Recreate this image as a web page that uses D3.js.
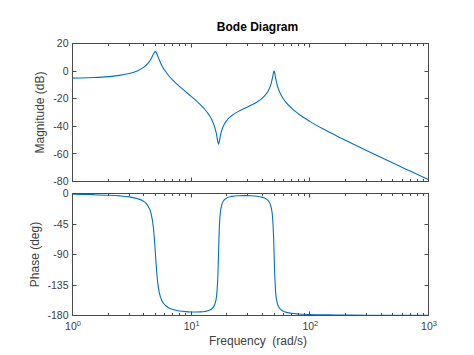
<!DOCTYPE html>
<html><head><meta charset="utf-8">
<script src="https://cdn.jsdelivr.net/npm/d3@7"></script>
<style>body{margin:0;background:#fff}svg{display:block}</style>
</head><body>
<svg id="c" width="474" height="355"></svg>
<script>
// ---- data ----
const freq = [1,1.5,2,2.5,3,3.5,4,4.3,4.6,4.8,4.9,5,5.1,5.2,5.4,5.7,6,6.5,7,8,9,10,11,12,13,14,15,15.8,16.4,16.8,17,17.2,17.6,18.2,19,20,22,25,28,32,36,40,43,45,47,48.5,49.5,50,50.5,51.5,53,55,58,62,70,80,100,130,170,220,300,400,550,700,1000];
const magDb = [-5.07,-4.65,-4.00,-3.09,-1.80,0.04,2.83,5.35,9.00,12.20,13.60,14.08,13.22,11.53,7.88,3.58,0.40,-3.55,-6.58,-11.26,-15.00,-18.30,-21.38,-24.44,-27.62,-31.20,-35.64,-40.58,-46.24,-51.46,-52.90,-51.68,-47.05,-42.29,-38.55,-35.66,-32.20,-29.19,-27.10,-24.75,-22.33,-19.41,-16.41,-13.63,-9.56,-4.80,-0.87,-0.02,-0.98,-5.02,-9.89,-14.10,-18.23,-21.93,-26.80,-30.90,-36.44,-42.01,-47.21,-51.98,-57.57,-62.66,-68.25,-72.46,-78.68];
const phaseDeg = [-1.09,-1.72,-2.50,-3.52,-4.98,-7.34,-11.92,-17.53,-29.97,-49.73,-67.12,-89.51,-111.51,-128.17,-147.00,-158.97,-164.42,-168.84,-171.09,-173.29,-174.28,-174.73,-174.83,-174.61,-173.99,-172.66,-169.77,-163.82,-150.26,-120.06,-89.11,-58.46,-28.82,-15.43,-9.50,-6.52,-4.28,-3.27,-3.08,-3.35,-4.14,-5.74,-8.22,-11.51,-18.91,-34.64,-64.52,-90.30,-115.86,-145.16,-160.64,-167.97,-172.28,-174.73,-176.71,-177.71,-178.53,-179.00,-179.29,-179.48,-179.63,-179.72,-179.80,-179.85,-179.89];
const magTicks = [20,0,-20,-40,-60,-80];
const phaseTicks = [0,-45,-90,-135,-180];
const freqTicks = [1,10,100,1000];
const freqTickExp = ["0","1","2","3"];
const freqDomain = [1,1000];
const magDomain = [-80,20];
const phaseDomain = [-180,0];
const titleText = "Bode Diagram";
const magLabel = "Magnitude (dB)";
const phaseLabel = "Phase (deg)";
const freqLabel = "Frequency  (rad/s)";

// ---- drawing ----
const svg = d3.select("#c");
const axisCol = "#4a4a4a", textCol = "#404040", lineCol = "#0072BD";
const font = "'Liberation Sans', Arial, Helvetica, sans-serif";
const L = 72.5, R = 428.5;
const x = d3.scaleLog().domain(freqDomain).range([L, R]);
const yMag = d3.scaleLinear().domain(magDomain).range([181.5, 43.5]);
const yPh = d3.scaleLinear().domain(phaseDomain).range([315.5, 193.5]);

const minor = [];
[1,10,100].forEach(d => { for (let k = 2; k <= 9; k++) minor.push(d*k); });

function panel(y, ticks, data, id, showX) {
  const g = svg.append("g");
  const [y0, y1] = y.range(); // bottom, top
  g.append("clipPath").attr("id", id).append("rect")
    .attr("x", L).attr("y", y1).attr("width", R - L).attr("height", y0 - y1);
  // line
  const line = d3.line().x(d => x(d[0])).y(d => y(d[1])).curve(d3.curveMonotoneX);
  g.append("path").datum(freq.map((f, i) => [f, data[i]]))
    .attr("d", line).attr("fill", "none").attr("stroke", lineCol)
    .attr("stroke-width", 1.1).attr("clip-path", `url(#${id})`);
  // box
  g.append("rect").attr("x", L).attr("y", y1).attr("width", R - L).attr("height", y0 - y1)
    .attr("fill", "none").attr("stroke", axisCol).attr("stroke-width", 1);
  // x ticks (top & bottom, inward)
  const tg = g.append("g").attr("stroke", axisCol).attr("stroke-width", 1);
  freqTicks.forEach(f => {
    const xx = Math.round(x(f) - 0.5) + 0.5;
    tg.append("line").attr("x1", xx).attr("x2", xx).attr("y1", y0).attr("y2", y0 - 4);
    tg.append("line").attr("x1", xx).attr("x2", xx).attr("y1", y1).attr("y2", y1 + 4);
  });
  minor.forEach(f => {
    const xx = Math.round(x(f) - 0.5) + 0.5;
    tg.append("line").attr("x1", xx).attr("x2", xx).attr("y1", y0).attr("y2", y0 - 2.5);
    tg.append("line").attr("x1", xx).attr("x2", xx).attr("y1", y1).attr("y2", y1 + 2.5);
  });
  // y ticks (left & right)
  ticks.forEach(t => {
    const yy = Math.round(y(t) - 0.5) + 0.5;
    tg.append("line").attr("x1", L).attr("x2", L + 4).attr("y1", yy).attr("y2", yy);
    tg.append("line").attr("x1", R).attr("x2", R - 4).attr("y1", yy).attr("y2", yy);
    g.append("text").attr("x", 68.5).attr("y", y(t)).attr("dy", "0.36em")
      .attr("text-anchor", "end").attr("font-family", font).attr("font-size", 10.5)
      .attr("fill", textCol).text(t);
  });
  if (showX) {
    freqTicks.forEach((f, i) => {
      const t = g.append("text").attr("x", x(f) + 0.5).attr("y", 330)
        .attr("text-anchor", "middle").attr("font-family", font)
        .attr("font-size", 10.5).attr("fill", textCol);
      t.append("tspan").text("10");
      t.append("tspan").attr("font-size", 7.5).attr("dy", -4.5).text(freqTickExp[i]);
    });
  }
  return g;
}

panel(yMag, magTicks, magDb, "clipMag", false);
panel(yPh, phaseTicks, phaseDeg, "clipPh", true);

// title and labels
svg.append("text").attr("x", 257.5).attr("y", 30.5).attr("text-anchor", "middle")
  .attr("font-family", font).attr("font-weight", "bold").attr("font-size", 12)
  .attr("fill", "#000").text(titleText);
svg.append("text").attr("transform", `translate(43.5,${(181.5 + 43.5) / 2}) rotate(-90)`)
  .attr("text-anchor", "middle").attr("font-family", font).attr("font-size", 12)
  .attr("fill", textCol).text(magLabel);
svg.append("text").attr("transform", `translate(38.5,${(315.5 + 193.5) / 2}) rotate(-90)`)
  .attr("text-anchor", "middle").attr("font-family", font).attr("font-size", 12)
  .attr("fill", textCol).text(phaseLabel);
svg.append("text").attr("x", 258).attr("y", 344.5).attr("text-anchor", "middle")
  .attr("font-family", font).attr("font-size", 12).attr("fill", textCol)
  .attr("xml:space", "preserve").style("white-space", "pre").text(freqLabel);
</script>
</body></html>
